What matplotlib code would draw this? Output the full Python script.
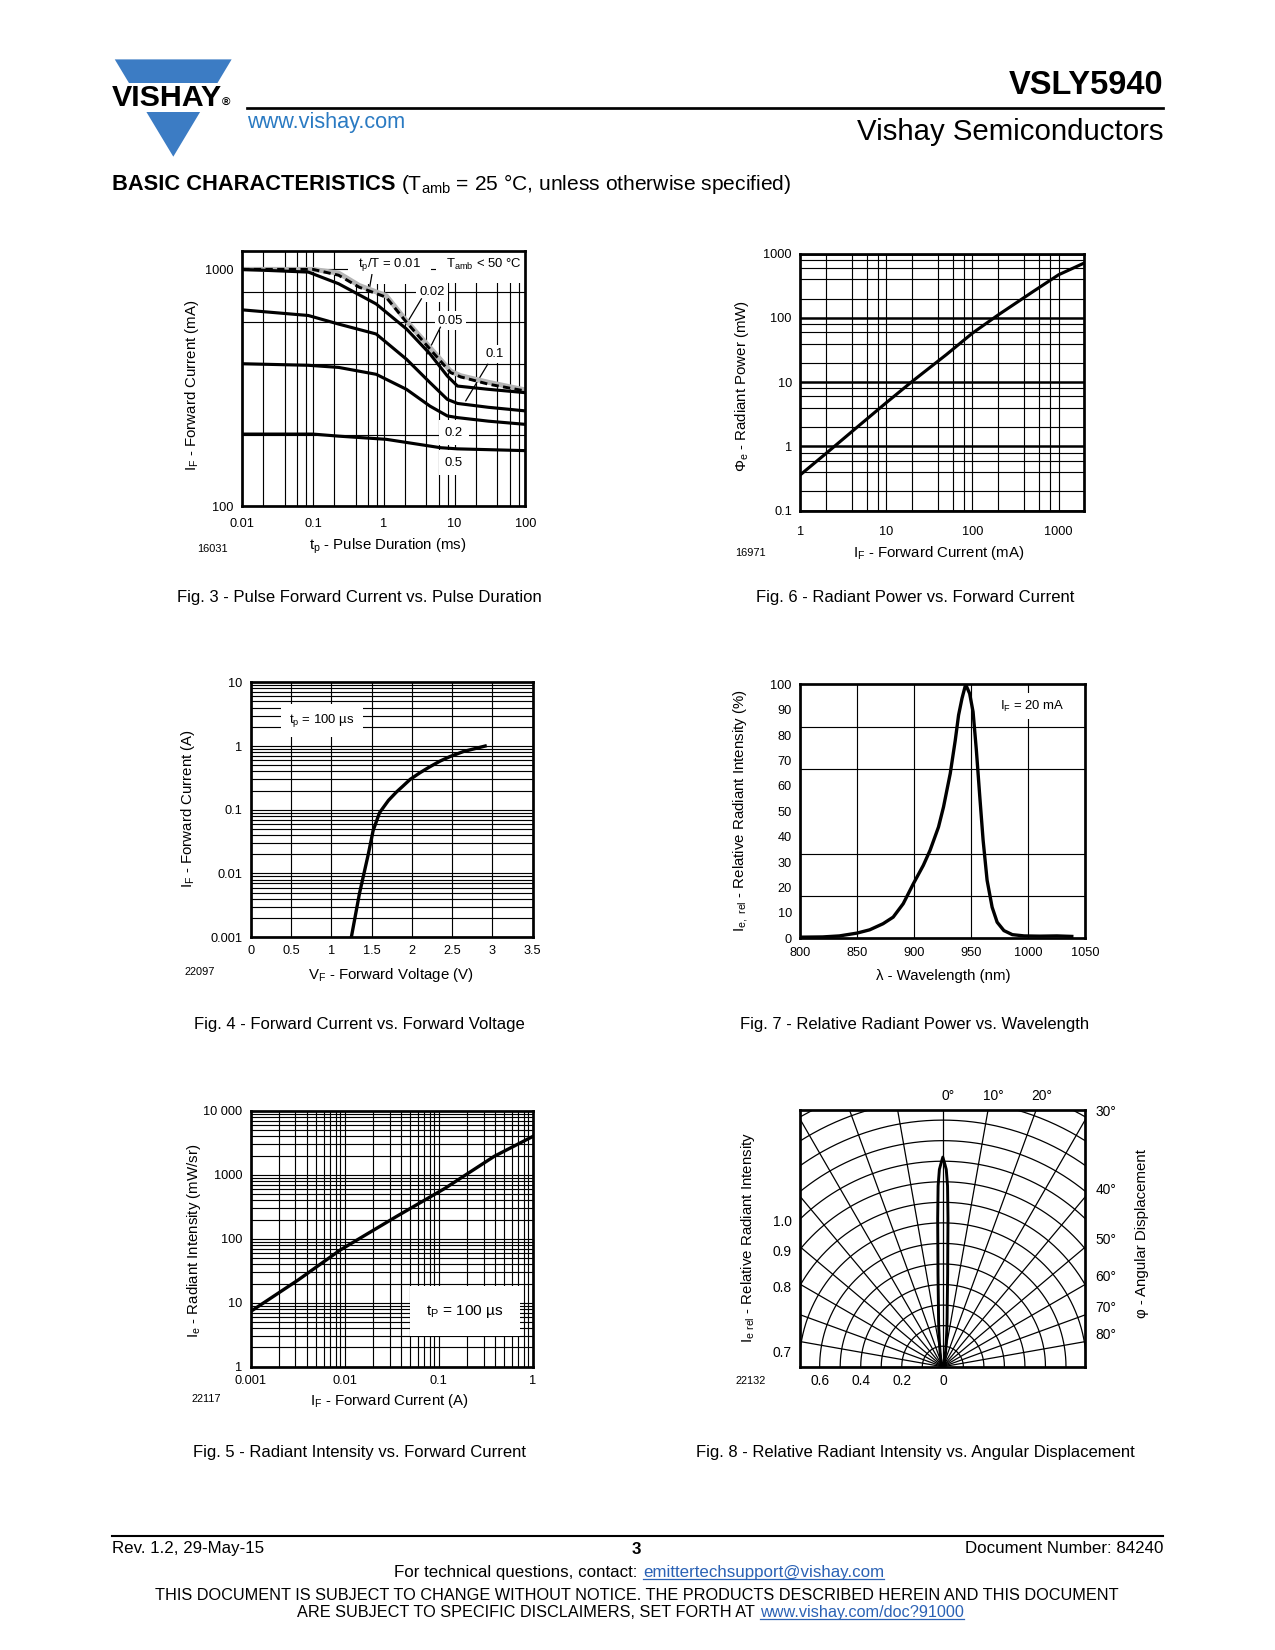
#################################################################
# VSLY5940 datasheet page 3 - basic characteristics charts
#################################################################

import numpy as np
import matplotlib
matplotlib.use("Agg")
import matplotlib.pyplot as plt
from matplotlib.ticker import FixedLocator, FixedFormatter, LogLocator, NullFormatter, NullLocator
from matplotlib.patches import Polygon, Rectangle
from matplotlib.lines import Line2D
from matplotlib.transforms import blended_transform_factory

plt.rcParams["font.family"] = ["Liberation Sans", "DejaVu Sans"]
plt.rcParams["mathtext.default"] = "regular"

# Fig. 3 - pulse forward current vs. pulse duration
f3_x_ticks = [0.01, 0.1, 1, 10, 100]
f3_x_labels = ["0.01", "0.1", "1", "10", "100"]
f3_y_ticks = [100, 1000]
f3_y_labels = ["100", "1000"]
f3_tp_a = [0.01, 0.1, 0.23, 0.45, 1.08, 2.1, 4.5, 8.8, 12.2, 30, 100]
f3_if_001 = [1000, 1000, 965, 855, 775, 605, 468, 372, 356, 334, 310]
f3_if_002 = [1000, 1000, 945, 841, 763, 598, 461, 367, 352, 328, 307]
f3_tp_b = [0.01, 0.086, 0.23, 0.78, 2.09, 4.5, 7.9, 11, 30, 100]
f3_if_005 = [1000, 974, 870, 715, 561, 440, 355, 322, 312, 302]
f3_if_01 = [675, 639, 588, 534, 418, 333, 283, 272, 262, 253]
f3_if_02 = [400, 394, 386, 361, 312, 265, 241, 237, 229, 222]
f3_tp_d = [0.01, 0.1, 0.23, 1.08, 6.3, 11, 100]
f3_if_05 = [202, 202, 198, 192, 177, 175, 172]

# Fig. 6 - radiant power vs. forward current
f6_if = [1, 2, 5, 10, 20, 50, 100, 200, 500, 1000, 2000]
f6_pe = [0.36, 0.78, 2.2, 4.8, 10.3, 27, 58, 112, 255, 470, 720]
f6_x_ticks = [1, 10, 100, 1000]
f6_x_labels = ["1", "10", "100", "1000"]
f6_y_ticks = [0.1, 1, 10, 100, 1000]
f6_y_labels = ["0.1", "1", "10", "100", "1000"]

# Fig. 4 - forward current vs. forward voltage
f4_vf = [1.25, 1.35, 1.46, 1.52, 1.60, 1.65, 1.71, 1.81, 1.89, 1.98, 2.10, 2.22, 2.35, 2.47, 2.64, 2.91]
f4_if = [0.001, 0.0048, 0.020, 0.047, 0.090, 0.11, 0.14, 0.19, 0.235, 0.30, 0.38, 0.47, 0.58, 0.68, 0.82, 1.0]
f4_x_ticks = [0, 0.5, 1, 1.5, 2, 2.5, 3, 3.5]
f4_x_labels = ["0", "0.5", "1", "1.5", "2", "2.5", "3", "3.5"]
f4_y_ticks = [0.001, 0.01, 0.1, 1, 10]
f4_y_labels = ["0.001", "0.01", "0.1", "1", "10"]

# Fig. 7 - relative radiant power vs. wavelength
f7_wl = [800, 819.7, 834.4, 849.7, 860.9, 872.6, 881.5, 890.3, 899.1, 907.9, 913.8, 921.2,
         925.6, 931.5, 935.9, 938.8, 941.8, 945, 948.5, 951.5, 954.4, 957.4, 960.3, 963.8,
         968.2, 972.6, 978.5, 985.9, 996.2, 1010, 1025, 1038]
f7_rel = [0.4, 0.5, 0.9, 2.0, 3.3, 5.7, 8.3, 13.6, 21.4, 28.7, 34.6, 43.8,
          51.7, 64.9, 78, 87.9, 94.5, 100, 96.4, 89.2, 74, 55.7, 38.6, 22.8,
          12.2, 6.3, 3.0, 1.4, 0.9, 0.8, 0.9, 0.7]
f7_x_ticks = [800, 850, 900, 950, 1000, 1050]
f7_y_ticks = [0, 10, 20, 30, 40, 50, 60, 70, 80, 90, 100]

# Fig. 5 - radiant intensity vs. forward current
f5_if = [0.001, 0.00323, 0.009, 0.0355, 0.117, 0.39, 1.0]
f5_ie = [7.3, 22.9, 67, 223, 617, 1950, 3980]
f5_x_ticks = [0.001, 0.01, 0.1, 1]
f5_x_labels = ["0.001", "0.01", "0.1", "1"]
f5_y_ticks = [1, 10, 100, 1000, 10000]
f5_y_labels = ["1", "10", "100", "1000", "10 000"]

# Fig. 8 - relative radiant intensity vs. angular displacement
f8_angle = [-30, -20, -15, -10, -8, -6, -5, -4, -3, -2.5, -2, -1.5, -1, -0.5, 0,
            0.5, 1, 1.5, 2, 2.5, 3, 4, 5, 6, 8, 10, 15, 20, 30]
f8_rel = [0.0, 0.02, 0.04, 0.08, 0.12, 0.19, 0.24, 0.31, 0.45, 0.55, 0.72, 0.88, 0.96, 0.99, 1.02,
          0.99, 0.96, 0.88, 0.72, 0.55, 0.45, 0.31, 0.24, 0.19, 0.12, 0.08, 0.04, 0.02, 0.0]
f8_left_labels = [1.0, 0.9, 0.8, 0.7]
f8_bottom_labels = [0.6, 0.4, 0.2, 0]
f8_top_angles = [0, 10, 20]
f8_right_angles = [30, 40, 50, 60, 70, 80]

# page geometry (reference measured on a 1211 x 1567 view)
W, H = 1211.0, 1567.0


def fx(x):
    return x / W


def fy(y):
    return 1 - y / H


def rect(l, t, r, b):
    return [fx(l), fy(b), fx(r) - fx(l), fy(t) - fy(b)]


TICK = 6.1
LAB = 7.2
CAP = 8.0
FOOT = 8.1
BLUE = "#3c7cc4"
LINK = "#2b62b5"

fig = plt.figure(figsize=(8.5, 11), dpi=150)


def style(ax):
    for s in ax.spines.values():
        s.set_linewidth(1.3)
    ax.tick_params(which="both", length=0, labelsize=TICK, pad=4)
    ax.grid(which="both", color="black", lw=0.55)
    ax.set_axisbelow(True)


def boxed(ax, x, y, s, size=6.3, pad=1.5):
    ax.text(x, y, s, fontsize=size, ha="center", va="center", zorder=1.5,
            bbox=dict(facecolor="white", edgecolor="none", pad=pad))


# ---------------- Fig. 3
ax3 = fig.add_axes(rect(230, 238, 499, 481))
ax3.set_xscale("log")
ax3.set_yscale("log")
ax3.plot(f3_tp_a, f3_if_001, color="#b5b5b5", lw=2.4, zorder=2)
ax3.plot(f3_tp_a, f3_if_002, color="black", lw=1.4, ls=(0, (2.5, 1.5)), zorder=2.1)
ax3.plot(f3_tp_b, f3_if_005, color="black", lw=1.5)
ax3.plot(f3_tp_b, f3_if_01, color="black", lw=1.5)
ax3.plot(f3_tp_b, f3_if_02, color="black", lw=1.5)
ax3.plot(f3_tp_d, f3_if_05, color="black", lw=1.5)
ax3.set_xlim(0.01, 100)
ax3.set_ylim(100, 1200)
ax3.xaxis.set_major_locator(FixedLocator(f3_x_ticks))
ax3.xaxis.set_major_formatter(FixedFormatter(f3_x_labels))
ax3.xaxis.set_minor_locator(LogLocator(base=10, subs=(2, 4, 6, 8)))
ax3.xaxis.set_minor_formatter(NullFormatter())
ax3.yaxis.set_major_locator(FixedLocator(f3_y_ticks))
ax3.yaxis.set_major_formatter(FixedFormatter(f3_y_labels))
ax3.yaxis.set_minor_locator(FixedLocator([200, 400, 600, 800]))
ax3.yaxis.set_minor_formatter(NullFormatter())
style(ax3)
ax3.tick_params(axis="x", pad=5.5)
boxed(ax3, 1.2, 1045, "t$_{p}$/T = 0.01", pad=5)
boxed(ax3, 26, 1045, "T$_{amb}$ < 50 °C", pad=5)
boxed(ax3, 4.8, 800, "0.02")
boxed(ax3, 8.8, 608, "0.05")
boxed(ax3, 36.7, 439, "0.1")
boxed(ax3, 9.8, 205, "0.2", pad=3)
boxed(ax3, 9.8, 153, "0.5", pad=3)
for (x0, y0), (x1, y1) in [((0.68, 950), (0.62, 815)), ((3.4, 751), (2.09, 589)),
                           ((6.3, 570), (4.06, 439)), ((29.4, 398), (14.4, 279))]:
    ax3.plot([x0, x1], [y0, y1], color="black", lw=0.6, zorder=1.6)
fig.text(fx(182), fy(366), "I$_{F}$ - Forward Current (mA)", rotation=90, fontsize=LAB,
         ha="center", va="center")
fig.text(fx(368), fy(519), "t$_{p}$ - Pulse Duration (ms)", fontsize=LAB, ha="center", va="center")
fig.text(fx(202), fy(521), "16031", fontsize=5.3, ha="center", va="center")

# ---------------- Fig. 6
ax6 = fig.add_axes(rect(760, 241, 1030, 485))
ax6.set_xscale("log")
ax6.set_yscale("log")
ax6.plot(f6_if, f6_pe, color="black", lw=1.5, zorder=3)
ax6.set_xlim(1, 2000)
ax6.set_ylim(0.1, 1000)
ax6.xaxis.set_major_locator(FixedLocator(f6_x_ticks))
ax6.xaxis.set_major_formatter(FixedFormatter(f6_x_labels))
ax6.xaxis.set_minor_locator(LogLocator(base=10, subs=(2, 4, 6, 8)))
ax6.xaxis.set_minor_formatter(NullFormatter())
ax6.yaxis.set_major_locator(FixedLocator(f6_y_ticks))
ax6.yaxis.set_major_formatter(FixedFormatter(f6_y_labels))
ax6.yaxis.set_minor_locator(LogLocator(base=10, subs=(2, 4, 6, 8)))
ax6.yaxis.set_minor_formatter(NullFormatter())
style(ax6)
ax6.tick_params(axis="x", pad=7.5)
ax6.grid(which="major", axis="y", color="black", lw=1.2)
fig.text(fx(705), fy(367), "Φ$_{e}$ - Radiant Power (mW)", rotation=90, fontsize=LAB,
         ha="center", va="center")
fig.text(fx(892), fy(525), "I$_{F}$ - Forward Current (mA)", fontsize=LAB, ha="center", va="center")
fig.text(fx(713), fy(525), "16971", fontsize=5.3, ha="center", va="center")

# ---------------- Fig. 4
ax4 = fig.add_axes(rect(238, 648, 506, 890))
ax4.set_yscale("log")
ax4.plot(f4_vf, f4_if, color="black", lw=1.6, zorder=3)
ax4.set_xlim(0, 3.5)
ax4.set_ylim(0.001, 10)
ax4.xaxis.set_major_locator(FixedLocator(f4_x_ticks))
ax4.xaxis.set_major_formatter(FixedFormatter(f4_x_labels))
ax4.xaxis.set_minor_locator(NullLocator())
ax4.yaxis.set_major_locator(FixedLocator(f4_y_ticks))
ax4.yaxis.set_major_formatter(FixedFormatter(f4_y_labels))
ax4.yaxis.set_minor_locator(LogLocator(base=10, subs=(2, 3, 4, 5, 6, 7, 8, 9)))
ax4.yaxis.set_minor_formatter(NullFormatter())
style(ax4)
boxed(ax4, 0.88, 2.53, "t$_{p}$ = 100 µs", pad=4)
fig.text(fx(179), fy(768), "I$_{F}$ - Forward Current (A)", rotation=90, fontsize=LAB,
         ha="center", va="center")
fig.text(fx(371), fy(926), "V$_{F}$ - Forward Voltage (V)", fontsize=LAB, ha="center", va="center")
fig.text(fx(190), fy(923), "22097", fontsize=5.3, ha="center", va="center")

# ---------------- Fig. 7
ax7 = fig.add_axes(rect(760, 650, 1031, 891))
ax7.plot(f7_wl, f7_rel, color="black", lw=1.6, zorder=3)
ax7.set_xlim(800, 1050)
ax7.set_ylim(0, 100)
ax7.xaxis.set_major_locator(FixedLocator(f7_x_ticks))
ax7.xaxis.set_major_formatter(FixedFormatter([str(v) for v in f7_x_ticks]))
ax7.yaxis.set_major_locator(FixedLocator(f7_y_ticks))
ax7.yaxis.set_major_formatter(FixedFormatter([str(v) for v in f7_y_ticks]))
ax7.yaxis.set_minor_locator(FixedLocator(list(np.linspace(0, 100, 7)[1:-1])))
ax7.yaxis.set_minor_formatter(NullFormatter())
for s in ax7.spines.values():
    s.set_linewidth(1.3)
ax7.tick_params(which="both", length=0, labelsize=TICK, pad=4)
ax7.grid(which="major", axis="x", color="black", lw=0.55)
ax7.grid(which="minor", axis="y", color="black", lw=0.55)
ax7.set_axisbelow(True)
boxed(ax7, 1003, 91.5, "I$_{F}$ = 20 mA", pad=2.5)
fig.text(fx(703), fy(770), "I$_{e,\\ rel}$ - Relative Radiant Intensity (%)", rotation=90,
         fontsize=LAB, ha="center", va="center")
fig.text(fx(896), fy(927), "λ - Wavelength (nm)", fontsize=LAB, ha="center", va="center")

# ---------------- Fig. 5
ax5 = fig.add_axes(rect(238, 1055, 506, 1298))
ax5.set_xscale("log")
ax5.set_yscale("log")
ax5.plot(f5_if, f5_ie, color="black", lw=1.6, zorder=3)
ax5.set_xlim(0.001, 1)
ax5.set_ylim(1, 10000)
ax5.xaxis.set_major_locator(FixedLocator(f5_x_ticks))
ax5.xaxis.set_major_formatter(FixedFormatter(f5_x_labels))
ax5.xaxis.set_minor_locator(LogLocator(base=10, subs=(2, 3, 4, 5, 6, 7, 8, 9)))
ax5.xaxis.set_minor_formatter(NullFormatter())
ax5.yaxis.set_major_locator(FixedLocator(f5_y_ticks))
ax5.yaxis.set_major_formatter(FixedFormatter(f5_y_labels))
ax5.yaxis.set_minor_locator(LogLocator(base=10, subs=(2, 3, 4, 5, 6, 7, 8, 9)))
ax5.yaxis.set_minor_formatter(NullFormatter())
style(ax5)
boxed(ax5, 0.19, 7.4, "t$_{P}$ = 100 µs", size=7.4, pad=8)
fig.text(fx(184), fy(1178), "I$_{e}$ - Radiant Intensity (mW/sr)", rotation=90, fontsize=LAB,
         ha="center", va="center")
fig.text(fx(370), fy(1331), "I$_{F}$ - Forward Current (A)", fontsize=LAB, ha="center", va="center")
fig.text(fx(196), fy(1329), "22117", fontsize=5.3, ha="center", va="center")

# ---------------- Fig. 8
ax8 = fig.add_axes(rect(760, 1054, 1031, 1298))
XR, YT = 0.695, 1.25
t = np.linspace(0, np.pi, 400)
for r in np.arange(0.1, 1.45, 0.1):
    ax8.plot(r * np.cos(t), r * np.sin(t), color="black", lw=0.6)
for a in np.arange(-90, 91, 10):
    ar = np.radians(a)
    ax8.plot([0, 2 * np.sin(ar)], [0, 2 * np.cos(ar)], color="black", lw=0.6)
th = np.radians(f8_angle)
ax8.plot(np.array(f8_rel) * np.sin(th), np.array(f8_rel) * np.cos(th), color="black", lw=1.4, zorder=3)
ax8.set_xlim(-XR, XR)
ax8.set_ylim(0, YT)
ax8.set_xticks([])
ax8.set_yticks([])
for s in ax8.spines.values():
    s.set_linewidth(1.3)
tr_left = blended_transform_factory(ax8.transAxes, ax8.transData)
for v in f8_left_labels:
    ax8.text(-0.03, np.sqrt(v ** 2 - XR ** 2) - 0.015, f"{v:.1f}", transform=tr_left,
             fontsize=6.6, ha="right", va="center")
tr_bot = blended_transform_factory(ax8.transData, ax8.transAxes)
for v in f8_bottom_labels:
    ax8.text(-v, -0.055, f"{v:g}", transform=tr_bot, fontsize=6.6, ha="center", va="center")
for a in f8_top_angles:
    ax8.text(YT * np.tan(np.radians(a)) + 0.025, 1.055, f"{a}°", transform=tr_bot,
             fontsize=6.6, ha="center", va="center")
for a in f8_right_angles:
    ax8.text(1.035, XR / np.tan(np.radians(a)), f"{a}°", transform=tr_left,
             fontsize=6.6, ha="left", va="bottom")
fig.text(fx(710), fy(1175), "I$_{e\\ rel}$ - Relative Radiant Intensity", rotation=90,
         fontsize=LAB, ha="center", va="center")
fig.text(fx(1085), fy(1171), "φ - Angular Displacement", rotation=90, fontsize=LAB,
         ha="center", va="center")
fig.text(fx(713), fy(1312), "22132", fontsize=5.3, ha="center", va="center")

# ---------------- captions
captions = [
    (341, 567, "Fig. 3 - Pulse Forward Current vs. Pulse Duration"),
    (869, 567, "Fig. 6 - Radiant Power vs. Forward Current"),
    (341, 973, "Fig. 4 - Forward Current vs. Forward Voltage"),
    (869, 973, "Fig. 7 - Relative Radiant Power vs. Wavelength"),
    (341, 1379, "Fig. 5 - Radiant Intensity vs. Forward Current"),
    (869, 1379, "Fig. 8 - Relative Radiant Intensity vs. Angular Displacement"),
]
for x, y, s in captions:
    fig.text(fx(x), fy(y), s, fontsize=CAP, ha="center", va="center")

# ---------------- header
tri = Polygon([[fx(109), fy(56.4)], [fx(220), fy(56.4)], [fx(164.6), fy(148.8)]],
              closed=True, transform=fig.transFigure, facecolor=BLUE, edgecolor="none")
fig.add_artist(tri)
fig.add_artist(Rectangle((fx(100), fy(106)), fx(130) - fx(0), fy(79) - fy(106),
                         transform=fig.transFigure, facecolor="white", edgecolor="none"))
fig.text(fx(106), fy(93), "VISHAY", fontsize=14.6, fontweight="bold", ha="left", va="center")
fig.text(fx(211), fy(98), "®", fontsize=5.5, fontweight="bold", ha="left", va="center")
fig.add_artist(Line2D([fx(235), fx(1105)], [fy(103), fy(103)], color="black", lw=1.3,
                      transform=fig.transFigure))
fig.text(fx(1105), fy(81), "VSLY5940", fontsize=15.7, fontweight="bold", ha="right", va="center")
fig.text(fx(1105), fy(125), "Vishay Semiconductors", fontsize=14.1, ha="right", va="center")
fig.text(fx(235), fy(116), "www.vishay.com", fontsize=10.4, color="#2a7ac2", ha="left", va="center")
bc = fig.text(fx(106), fy(175), "BASIC CHARACTERISTICS", fontsize=10.5, fontweight="bold",
              ha="left", va="center")

# ---------------- footer
fig.add_artist(Line2D([fx(106), fx(1105)], [fy(1459), fy(1459)], color="black", lw=1.0,
                      transform=fig.transFigure))
fig.text(fx(106), fy(1471), "Rev. 1.2, 29-May-15", fontsize=FOOT, ha="left", va="center")
fig.text(fx(604), fy(1472), "3", fontsize=FOOT, fontweight="bold", ha="center", va="center")
fig.text(fx(1105), fy(1471), "Document Number: 84240", fontsize=FOOT, ha="right", va="center")
fig.text(fx(610), fy(1493), "For technical questions, contact: ", fontsize=FOOT, ha="right", va="center")
mail = fig.text(fx(611), fy(1493), "emittertechsupport@vishay.com", fontsize=FOOT, color=LINK,
                ha="left", va="center")
fig.text(fx(605), fy(1515), "THIS DOCUMENT IS SUBJECT TO CHANGE WITHOUT NOTICE. THE PRODUCTS DESCRIBED "
         "HEREIN AND THIS DOCUMENT", fontsize=7.8, ha="center", va="center")
fig.text(fx(721), fy(1531), "ARE SUBJECT TO SPECIFIC DISCLAIMERS, SET FORTH AT ", fontsize=7.8,
         ha="right", va="center")
link = fig.text(fx(722), fy(1531), "www.vishay.com/doc?91000", fontsize=7.8, color=LINK,
                ha="left", va="center")

# pieces that depend on rendered text widths
fig.canvas.draw()
r = fig.canvas.get_renderer()
bb = bc.get_window_extent(r)
fig.text(bb.x1 / fig.bbox.width + fx(6), fy(175), "(T$_{amb}$ = 25 °C, unless otherwise specified)",
         fontsize=10.1, ha="left", va="center")
for t_ in (mail, link):
    b = t_.get_window_extent(r)
    yy = (b.y0 + 1) / fig.bbox.height
    fig.add_artist(Line2D([b.x0 / fig.bbox.width, b.x1 / fig.bbox.width], [yy, yy],
                          color=LINK, lw=0.6, transform=fig.transFigure))

fig.savefig("out.png", dpi=150)
